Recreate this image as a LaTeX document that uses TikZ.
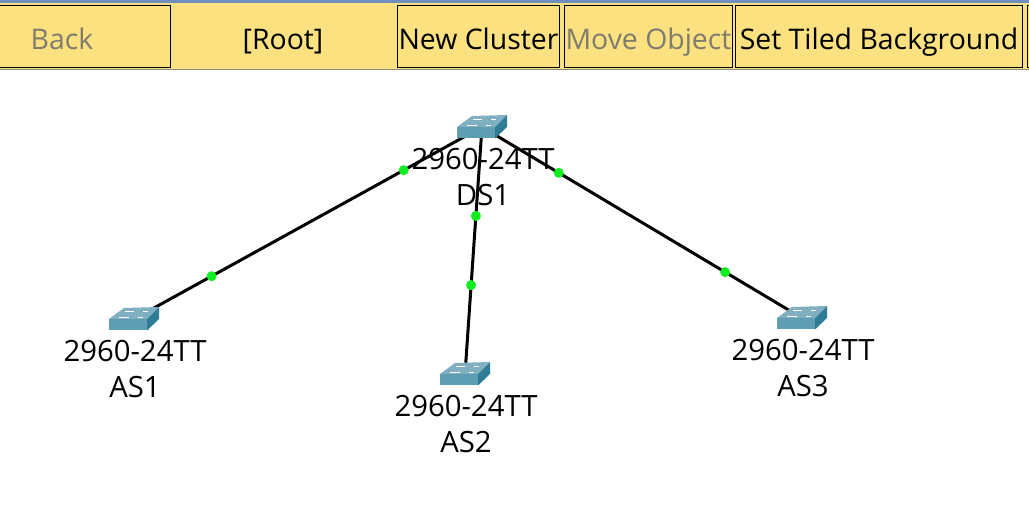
\documentclass[tikz,border=0pt]{standalone}
\usepackage{fontspec}
\setmainfont{Open Sans}
\definecolor{barblue}{HTML}{6E8FC0}
\definecolor{baryellow}{HTML}{FBE17F}
\definecolor{barline}{HTML}{8E8A80}
\definecolor{greytext}{HTML}{7F7B6F}
\definecolor{swfront}{HTML}{5F9DB3}
\definecolor{swtop}{HTML}{7FAFC0}
\definecolor{swside}{HTML}{2F7C96}
\definecolor{linkgreen}{HTML}{10EE20}
\tikzset{
	bartext/.style={inner sep=0, text height=28, text depth=2, font=\fontsize{28.4}{29}\selectfont},
	barbtn/.style={bartext, draw=black, line width=1pt, fill=baryellow, minimum height=62},
	devlabel/.style={align=center, inner sep=0, font=\fontsize{29.3}{36}\selectfont},
	linkline/.style={line width=3pt},
	linkdot/.style={circle, fill=linkgreen, minimum size=10, inner sep=0},
	switchicon/.pic={
		\fill [swfront] (-25,0) -- (13,0) -- (13,11.5) -- (-25,11.5) -- cycle;
		\fill [swtop] (-25,0) -- (-10,-11) -- (25,-12) -- (13,0) -- cycle;
		\fill [swside] (13,0) -- (25,-12) -- (25,0) -- (13,11.5) -- cycle;
		\draw [white, line width=0.8pt] (-15,-1.5) -- (-5,-1.5);
		\draw [white, line width=0.8pt] (4,-1.5) -- (9,-1.5);
		\draw [white, line width=0.8pt] (-9,-8) -- (0,-8);
		\draw [white, line width=0.8pt] (9,-8) -- (14,-8);
	}
}
\begin{document}
\begin{tikzpicture}[x=1pt, y=-1pt]
		\clip (0,0) rectangle (1029,529);
		\fill [white] (0,0) rectangle (1029,529);
		% toolbar
		\fill [baryellow] (0,3) rectangle (1029,70);
		\fill [barblue] (0,0) rectangle (1029,3);
		\draw [barline, line width=1pt] (0,70) -- (1029,70);
		\node [barbtn, minimum width=171, text=greytext] (back) at (85,37) {\hspace{-46pt}Back};
		\node [bartext] (root) at (283,37) {[Root]};
		\node [barbtn, minimum width=162] (cluster) at (478.5,37) {New Cluster};
		\node [barbtn, minimum width=168, text=greytext] (move) at (648.5,37) {Move Object};
		\node [barbtn, minimum width=287] (tiled) at (879,37) {Set Tiled Background};
		\node [barbtn, minimum width=20] (extra) at (1037,37) {};
		% switches
		\coordinate (DS1) at (482,127);
		\coordinate (AS1) at (134,319);
		\coordinate (AS2) at (465,374);
		\coordinate (AS3) at (802,318);
		% links
		\draw [linkline] (DS1)--(AS1) node[linkdot, pos=0.225] (dot1a) {} node[linkdot, pos=0.777] (dot1b) {};
		\draw [linkline] (DS1)--(AS2) node[linkdot, pos=0.36] (dot2a) {} node[linkdot, pos=0.64] (dot2b) {};
		\draw [linkline] (DS1)--(AS3) node[linkdot, pos=0.24] (dot3a) {} node[linkdot, pos=0.76] (dot3b) {};
		\pic at (DS1) {switchicon};
		\pic at (AS1) {switchicon};
		\pic at (AS2) {switchicon};
		\pic at (AS3) {switchicon};
		% labels
		\node [devlabel] (lblDS1) at (483,177.5) {2960-24TT\\DS1};
		\node [devlabel] (lblAS1) at (135,369.5) {2960-24TT\\AS1};
		\node [devlabel] (lblAS2) at (466,424.5) {2960-24TT\\AS2};
		\node [devlabel] (lblAS3) at (803,368.5) {2960-24TT\\AS3};
	\end{tikzpicture}
\end{document}
